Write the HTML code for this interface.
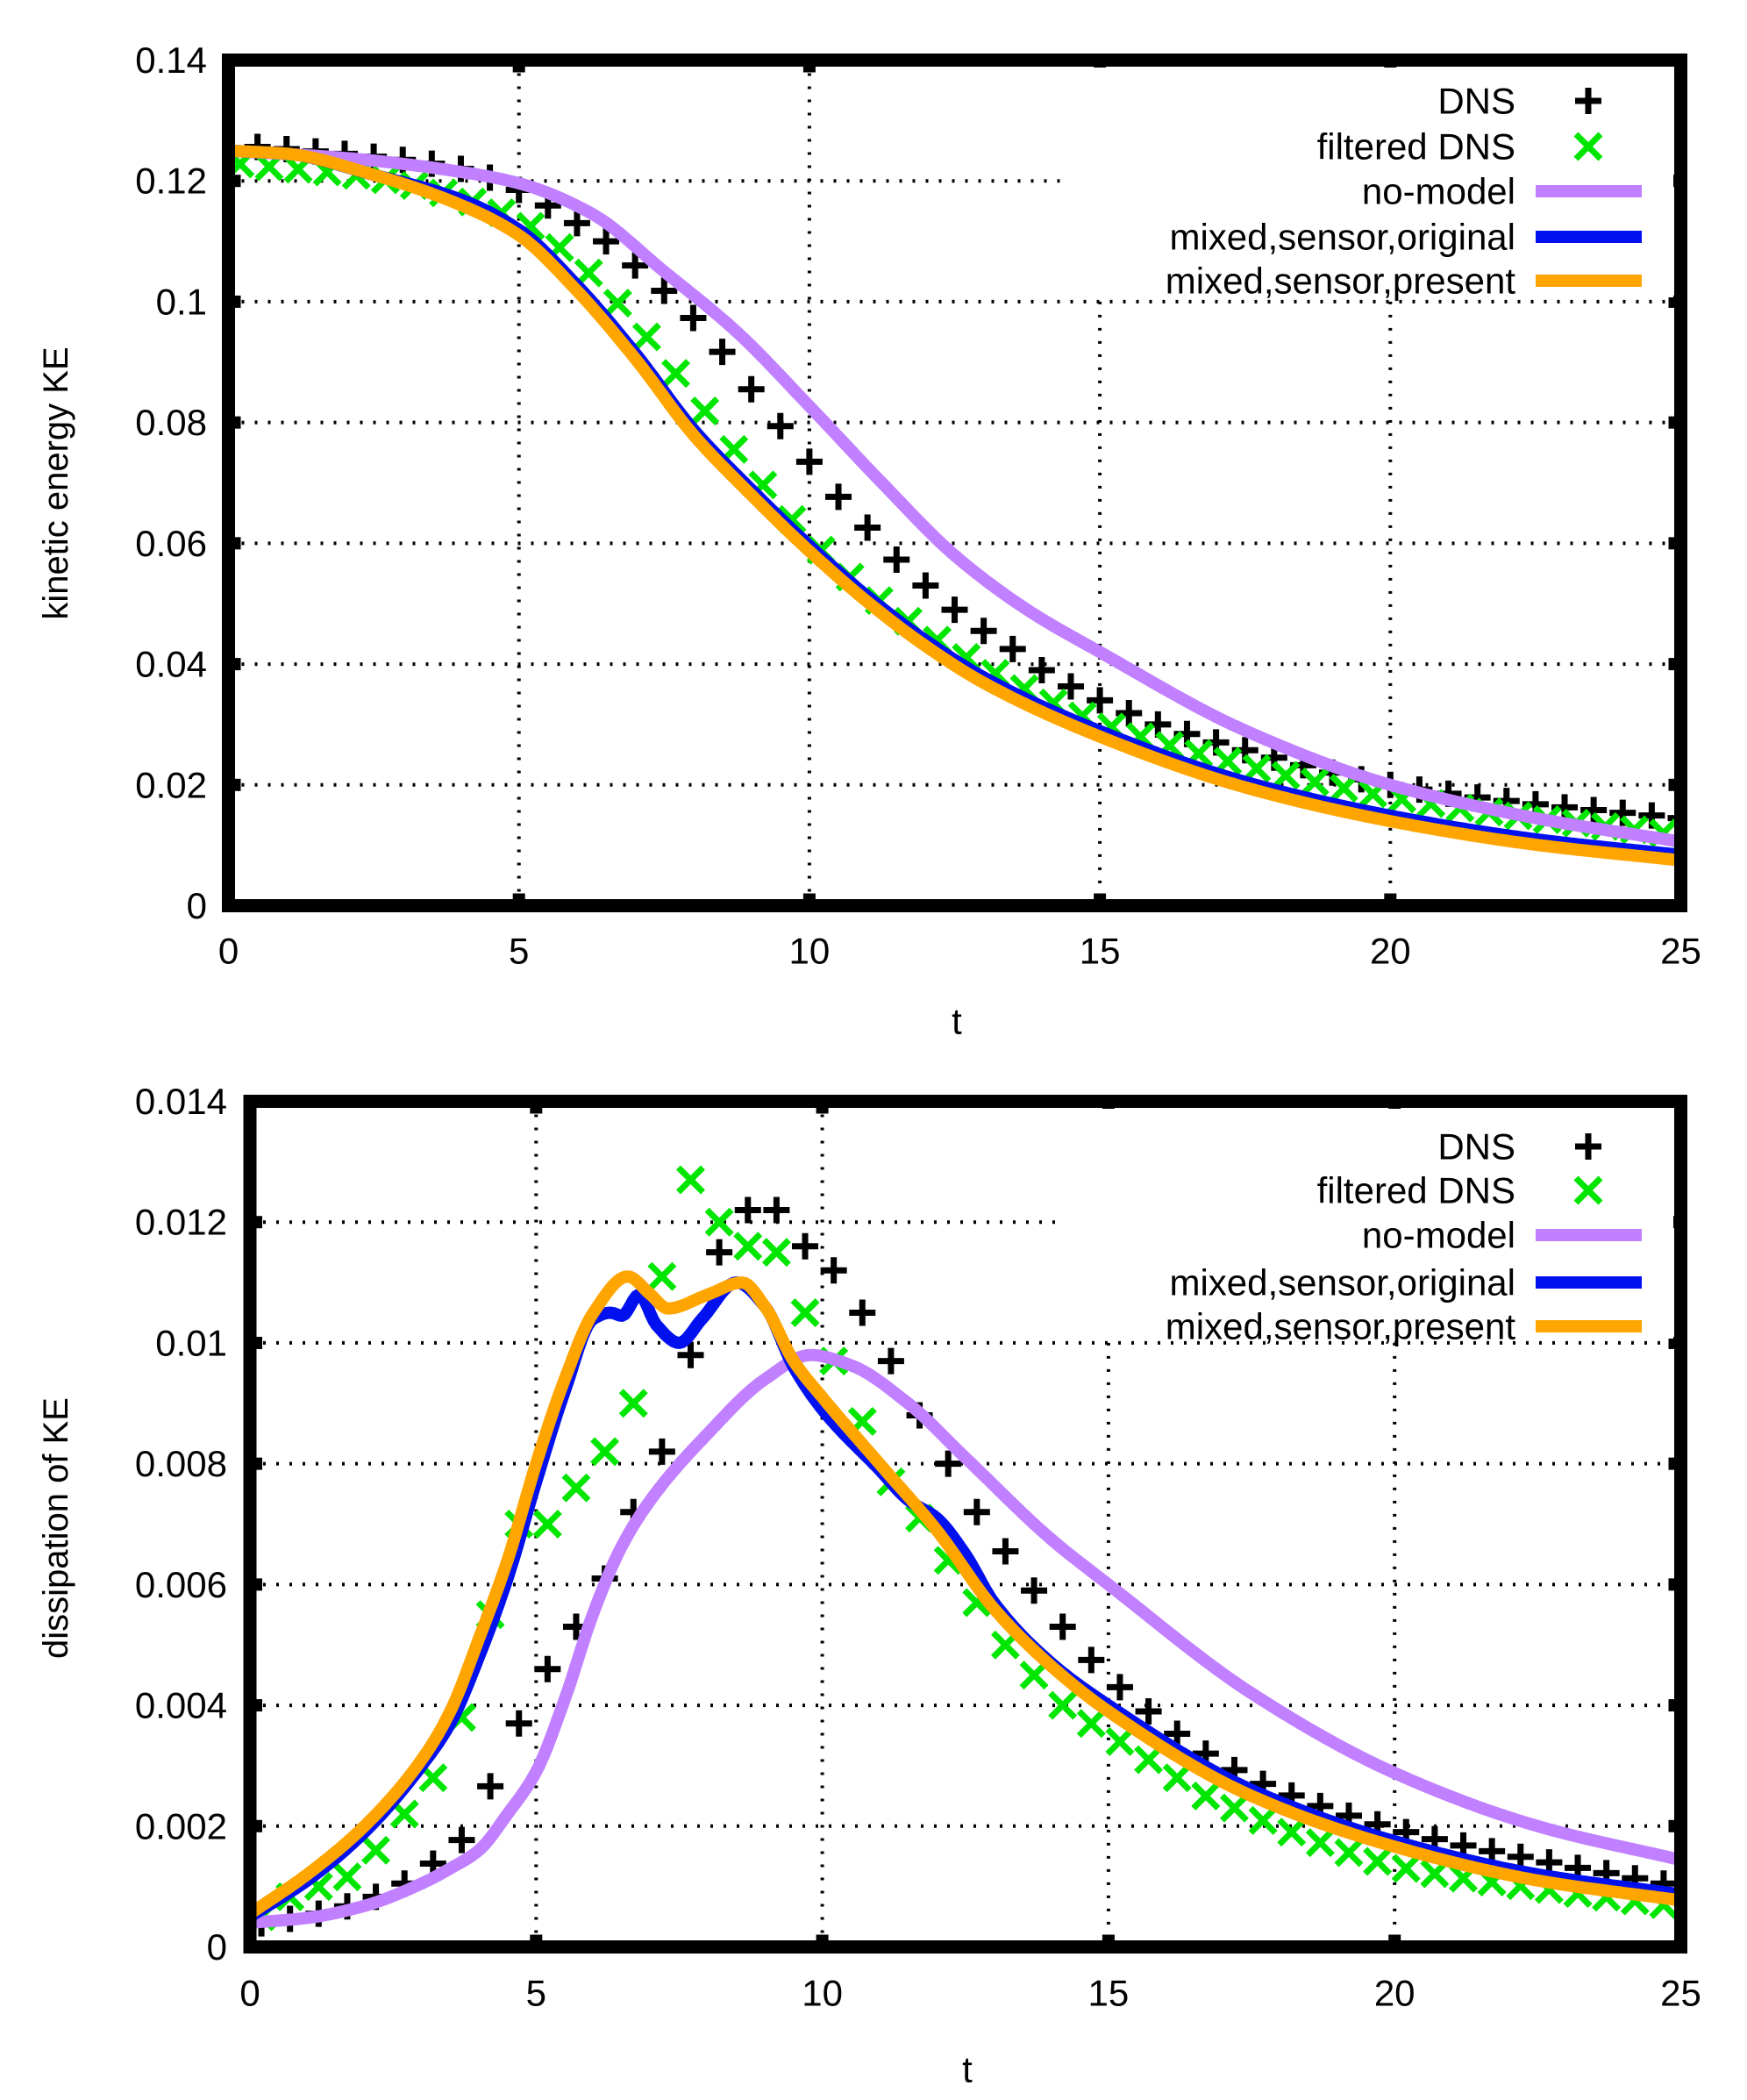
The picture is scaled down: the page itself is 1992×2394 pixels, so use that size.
<!DOCTYPE html>
<html><head><meta charset="utf-8"><style>
html,body{margin:0;padding:0;background:#fff}
svg{display:block}
text{font-family:"Liberation Sans",sans-serif;font-size:42px;fill:#000}
</style></head><body>
<svg id="s" xmlns="http://www.w3.org/2000/svg" width="1992" height="2394" viewBox="0 0 1992 2394"></svg>
<script>
const S=document.getElementById('s');let out='';
function pchip(P){const n=P.length,x=P.map(p=>p[0]),y=P.map(p=>p[1]);const h=[],d=[];
for(let i=0;i<n-1;i++){h[i]=x[i+1]-x[i];d[i]=(y[i+1]-y[i])/h[i];}
const m=new Array(n);m[0]=d[0];m[n-1]=d[n-2];
for(let i=1;i<n-1;i++){if(d[i-1]*d[i]<=0)m[i]=0;else{const w1=2*h[i]+h[i-1],w2=h[i]+2*h[i-1];m[i]=(w1+w2)/(w1/d[i-1]+w2/d[i]);}}
return t=>{if(t<=x[0])return y[0];if(t>=x[n-1])return y[n-1];let i=0;while(t>x[i+1])i++;
const s=(t-x[i])/h[i],h00=2*s*s*s-3*s*s+1,h10=s*s*s-2*s*s+s,h01=-2*s*s*s+3*s*s,h11=s*s*s-s*s;
return h00*y[i]+h10*h[i]*m[i]+h01*y[i+1]+h11*h[i]*m[i+1];};}
function curve(P,X,Y,col,w,clip){const f=pchip(P);let d='';for(let t=0;t<=25.001;t+=0.05){d+=(d?'L':'M')+X(t).toFixed(1)+','+Y(f(t)).toFixed(1);}
out+=`<path d="${d}" fill="none" stroke="${col}" stroke-width="${w}" stroke-linejoin="round" clip-path="url(#${clip})"/>`;}
function plus(x,y){out+=`<path d="M${x-15},${y}H${x+15}M${x},${y-15}V${y+15}" stroke="#000" stroke-width="7"/>`;}
function cross(x,y){out+=`<path d="M${x-14},${y-14}L${x+14},${y+14}M${x-14},${y+14}L${x+14},${y-14}" stroke="#00e600" stroke-width="7"/>`;}
function marks(P,X,Y,t0,fn,clip){const f=pchip(P);out+=`<g clip-path="url(#${clip})">`;for(let t=t0;t<=25.01;t+=0.5)fn(X(t),Y(f(t)));out+='</g>';}
function panel(o){const {X,Y,L,T,R,B,yt,yfmt,lx,clip}=o;
out+=`<clipPath id="${clip}"><rect x="${L}" y="${T}" width="${R-L}" height="${B-T}"/></clipPath>`;
for(let t=5;t<25;t+=5){const x=X(t);const y0=(t>=15)?o.gy:T;out+=`<line x1="${x}" y1="${y0}" x2="${x}" y2="${B}" stroke="#000" stroke-width="4" stroke-dasharray="3 12"/>`;}
yt.forEach((v,i)=>{if(i==0||i==yt.length-1)return;const y=Y(v);const x2=(i==yt.length-2)?1210:R;out+=`<line x1="${L}" y1="${y}" x2="${x2}" y2="${y}" stroke="#000" stroke-width="4" stroke-dasharray="3 12"/>`;});
for(let t=0;t<=25;t+=5){const x=X(t);out+=`<line x1="${x}" y1="${B}" x2="${x}" y2="${B-14}" stroke="#000" stroke-width="14"/><line x1="${x}" y1="${T}" x2="${x}" y2="${T+14}" stroke="#000" stroke-width="14"/>`;
out+=`<text x="${x}" y="${o.xly}" text-anchor="middle" dominant-baseline="central">${t}</text>`;}
yt.forEach(v=>{const y=Y(v);out+=`<line x1="${L}" y1="${y}" x2="${L+14}" y2="${y}" stroke="#000" stroke-width="14"/><line x1="${R}" y1="${y}" x2="${R-14}" y2="${y}" stroke="#000" stroke-width="14"/>`;
out+=`<text x="${lx}" y="${y}" text-anchor="end" dominant-baseline="central">${yfmt(v)}</text>`;});
}
function frame(L,T,R,B){out+=`<rect x="${L}" y="${T}" width="${R-L}" height="${B-T}" fill="none" stroke="#000" stroke-width="15"/>`;}
function legend(ys){const names=['DNS','filtered DNS','no-model','mixed,sensor,original','mixed,sensor,present'];
names.forEach((n,i)=>{out+=`<text x="1728" y="${ys[i]}" text-anchor="end" dominant-baseline="central">${n}</text>`;});
plus(1811,ys[0]);cross(1811,ys[1]);
out+=`<line x1="1751" y1="${ys[2]}" x2="1872" y2="${ys[2]}" stroke="#c080ff" stroke-width="14"/>`;
out+=`<line x1="1751" y1="${ys[3]}" x2="1872" y2="${ys[3]}" stroke="#0010ee" stroke-width="14"/>`;
out+=`<line x1="1751" y1="${ys[4]}" x2="1872" y2="${ys[4]}" stroke="#ffa500" stroke-width="14"/>`;}

// ---------- TOP ----------
{const X=t=>260.5+t*66.24,Y=v=>1032.5-v*6885.7;
panel({X,Y,L:260.5,T:68.5,R:1916.5,B:1032.5,yt:[0,.02,.04,.06,.08,.1,.12,.14],yfmt:v=>v==0?'0':String(+v.toFixed(2)),lx:236,xly:1084,gy:Y(.1),clip:'c1'});
const purple=[[0,.125],[2,.1238],[4,.1215],[5,.1196],[6.25,.1146],[7.5,.105],[8.75,.095],[10,.0827],[11.25,.070],[12.5,.058],[13.75,.049],[15,.042],[17.5,.029],[20,.020],[22.5,.0145],[25,.0106]];
const orange=[[0,.125],[1,.1245],[2.5,.121],[4,.116],[5,.111],[6,.1018],[7,.0906],[8,.078],[9,.068],[10,.0587],[11,.0503],[12,.043],[13,.0369],[15,.028],[17.5,.0196],[20,.014],[22.5,.0101],[25,.0075]];
const blue=orange.map(p=>[p[0],p[1]+(p[0]<4?0:0.0009)]);
const dns=[[0,.126],[2.5,.124],[4,.122],[5,.1185],[6,.113],[6.5,.110],[7,.106],[7.5,.1018],[8,.0973],[8.5,.0917],[9,.0855],[9.5,.0794],[10,.0735],[10.5,.0677],[11,.0626],[11.5,.0573],[12,.053],[12.5,.049],[13,.0455],[13.5,.0425],[14,.039],[14.5,.0363],[15,.034],[16,.030],[18,.0245],[20,.020],[22.5,.0168],[25,.0145]];
const grn=[[0,.123],[2.5,.1205],[5,.1135],[6,.1065],[7,.0965],[7.5,.0905],[8,.0845],[8.5,.078],[9,.072],[10,.0608],[11,.052],[12,.0452],[13,.0395],[15,.0303],[17.5,.0232],[20,.018],[22.5,.0145],[25,.0117]];
out+=`<rect x="1215" y="77" width="693" height="262" fill="#fff"/>`;
marks(dns,X,Y,0.5,plus,'c1');marks(grn,X,Y,0.2,cross,'c1');
curve(purple,X,Y,'#c080ff',14,'c1');curve(blue,X,Y,'#0010ee',14,'c1');curve(orange,X,Y,'#ffa500',14,'c1');
frame(260.5,68.5,1916.5,1032.5);legend([115,167,218,270,320]);
out+=`<text x="1091" y="1164" text-anchor="middle" dominant-baseline="central">t</text>`;
out+=`<text transform="translate(64,551) rotate(-90)" text-anchor="middle" dominant-baseline="central" style="font-size:40px">kinetic energy KE</text>`;}

// ---------- BOTTOM ----------
{const X=t=>285+t*65.26,Y=v=>2219.5-v*68857;
panel({X,Y,L:285,T:1255.5,R:1916.5,B:2219.5,yt:[0,.002,.004,.006,.008,.01,.012,.014],yfmt:v=>v==0?'0':String(+v.toFixed(3)),lx:259,xly:2272,gy:Y(.01),clip:'c2'});
const purple=[[0,.0004],[1,.00048],[2,.00068],[3,.00105],[3.5,.0013],[4,.0016],[4.5,.0022],[5,.0029],[5.5,.0041],[6,.00553],[6.5,.00664],[7,.0074],[8,.0085],[9,.0094],[9.8,.0098],[10.5,.00963],[11.5,.009],[12.5,.0081],[14,.00675],[15,.006],[17.5,.0042],[20,.00288],[22.5,.002],[25,.00144]];
const orange=[[0,.00055],[1,.0012],[2,.002],[3,.0031],[3.5,.0039],[4,.0051],[4.5,.0064],[5,.008],[5.5,.0094],[6,.0105],[6.6,.0111],[7,.0108],[7.3,.01057],[8,.0108],[8.6,.011],[9,.0106],[9.5,.0097],[10,.0091],[11,.008],[12,.0069],[13,.0056],[14,.00465],[15,.0039],[17.5,.0025],[20,.00166],[22.5,.0011],[25,.00077]];
const blue=[[0,.0005],[1,.0011],[2,.0019],[3,.003],[3.5,.0037],[4,.0048],[4.5,.0061],[5,.0077],[5.5,.0092],[6,.0104],[6.3,.0105],[6.5,.01045],[6.8,.0108],[7.1,.0103],[7.5,.0100],[7.9,.0104],[8.5,.011],[9,.0106],[9.5,.0096],[10,.0089],[11,.0079],[11.5,.0074],[12,.0071],[12.5,.0065],[13,.0057],[14,.0047],[15,.004],[17.5,.0026],[20,.00175],[22.5,.0012],[25,.00087]];
const dns=[[0.2,.00039],[1.2,.00055],[2.2,.00083],[2.7,.00105],[3.2,.00138],[3.7,.00177],[4.2,.00266],[4.7,.0037],[5.2,.0046],[5.7,.0053],[6.2,.0061],[6.7,.0072],[7.2,.0082],[7.7,.0098],[8.2,.0115],[8.7,.0122],[9.2,.0122],[9.7,.0116],[10.2,.0112],[10.7,.0105],[11.2,.0097],[11.7,.0088],[12.2,.008],[12.7,.0072],[13.2,.00655],[13.7,.0059],[14.2,.0053],[14.7,.00475],[15.2,.0043],[15.7,.0039],[16.7,.0032],[17.7,.0027],[20.2,.0019],[22.7,.0014],[24.7,.00105]];
const grn=[[0.2,.0005],[0.7,.00083],[1.2,.001],[1.7,.00116],[2.2,.0016],[2.7,.0022],[3.2,.0028],[3.7,.0038],[4.2,.0055],[4.7,.0070],[5.2,.0070],[5.7,.0076],[6.2,.0082],[6.7,.009],[7.2,.0111],[7.7,.0127],[8.2,.012],[8.7,.0116],[9.2,.0115],[9.7,.0105],[10.2,.0097],[10.7,.0087],[11.2,.0077],[11.7,.0071],[12.2,.0064],[12.7,.0057],[13.2,.005],[13.7,.0045],[14.2,.004],[14.7,.0037],[15.2,.0034],[15.7,.0031],[16.2,.0028],[16.7,.0025],[17.2,.0023],[18.2,.0019],[20.2,.0013],[22.7,.00095],[24.7,.0007]];
out+=`<rect x="1215" y="1264" width="693" height="262" fill="#fff"/>`;
marks(dns,X,Y,0.2,plus,'c2');marks(grn,X,Y,0.2,cross,'c2');
curve(purple,X,Y,'#c080ff',14,'c2');curve(blue,X,Y,'#0010ee',14,'c2');curve(orange,X,Y,'#ffa500',14,'c2');
frame(285,1255.5,1916.5,2219.5);legend([1307,1357,1408,1462,1512]);
out+=`<text x="1103" y="2359" text-anchor="middle" dominant-baseline="central">t</text>`;
out+=`<text transform="translate(64,1742) rotate(-90)" text-anchor="middle" dominant-baseline="central" style="font-size:40px">dissipation of KE</text>`;}
S.innerHTML=out;
</script>
</body></html>
